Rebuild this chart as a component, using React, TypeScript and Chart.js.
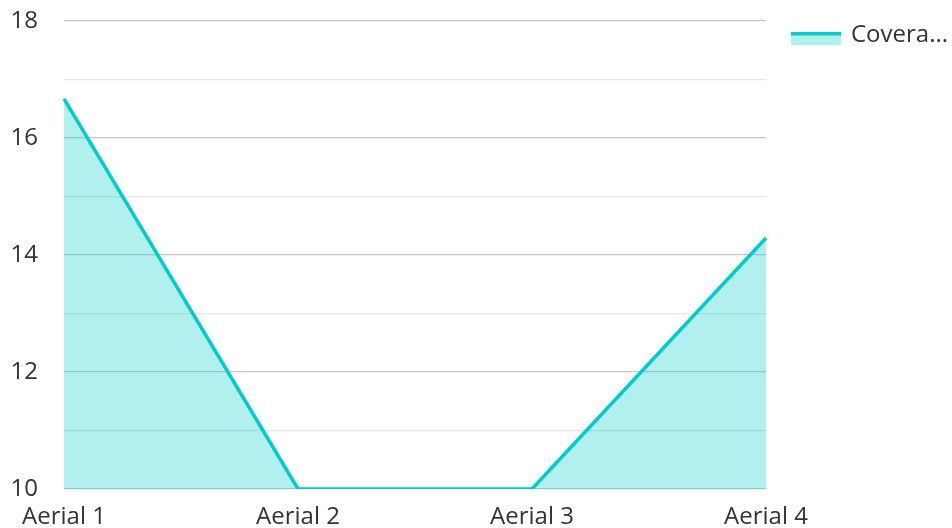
import React, { useEffect, useRef } from "react";
import { Chart, registerables } from "chart.js";

Chart.register(...registerables);

const categories = ["Aerial 1", "Aerial 2", "Aerial 3", "Aerial 4"];
const coverage = [16.67, 10, 10, 14.29];
const seriesLabel = "Covera...";
const yMin = 10;
const yMax = 18;

const LINE = "rgb(0,204,204)";
const FILL = "rgba(0,204,204,0.3)";
const TEXT = "#333333";
const FONT = "Open Sans";
const FS = 24;

const legendPlugin = {
  id: "customLegend",
  afterDraw(chart: any) {
    const ctx = chart.ctx;
    ctx.save();
    const x = 791;
    const y = 32;
    ctx.fillStyle = FILL;
    ctx.fillRect(x, y + 3, 50, 10);
    ctx.fillStyle = LINE;
    ctx.fillRect(x, y, 50, 3.5);
    ctx.fillStyle = TEXT;
    ctx.font = `${FS}px "${FONT}"`;
    ctx.textBaseline = "middle";
    ctx.textAlign = "left";
    ctx.fillText(seriesLabel, 851, 35);
    ctx.restore();
  },
};

export default function App() {
  const ref = useRef<HTMLCanvasElement>(null);
  useEffect(() => {
    if (!ref.current) return;
    const chart = new Chart(ref.current, {
      type: "line",
      data: {
        labels: categories,
        datasets: [
          {
            label: seriesLabel,
            data: coverage,
            borderColor: LINE,
            backgroundColor: FILL,
            borderWidth: 3.5,
            fill: "start",
            pointRadius: 0,
            tension: 0,
          },
        ],
      },
      options: {
        animation: false,
        responsive: false,
        maintainAspectRatio: false,
        layout: { padding: { top: 21, right: 186, left: 0, bottom: 0 } },
        plugins: { legend: { display: false }, tooltip: { enabled: false } },
        scales: {
          x: {
            grid: { display: false, drawTicks: false },
            border: { display: false },
            ticks: {
              color: TEXT,
              font: { family: FONT, size: FS },
              padding: 14,
              maxRotation: 0,
              autoSkip: false,
            },
            afterFit(scale: any) {
              scale.height = 39;
              scale.paddingLeft = 0;
              scale.paddingRight = 0;
            },
          },
          y: {
            min: yMin,
            max: yMax,
            grid: {
              drawTicks: false,
              color: (c: any) => (c.tick && c.tick.value % 2 === 0 ? "#c8c8c8" : "#e6e6e6"),
              lineWidth: 1.2,
            },
            border: { display: false },
            ticks: {
              stepSize: 1,
              color: TEXT,
              font: { family: FONT, size: FS },
              padding: 26,
              callback: (v: any) => (Number(v) % 2 === 0 ? String(v) : ""),
            },
            afterFit(scale: any) {
              scale.width = 64;
              scale.paddingTop = 0;
              scale.paddingBottom = 0;
            },
          },
        },
      },
      plugins: [legendPlugin],
    });
    return () => chart.destroy();
  }, []);
  return (
    <div style={{ position: "absolute", left: 0, top: 0, width: 952, height: 528 }}>
      <canvas ref={ref} width={952} height={528} />
    </div>
  );
}
